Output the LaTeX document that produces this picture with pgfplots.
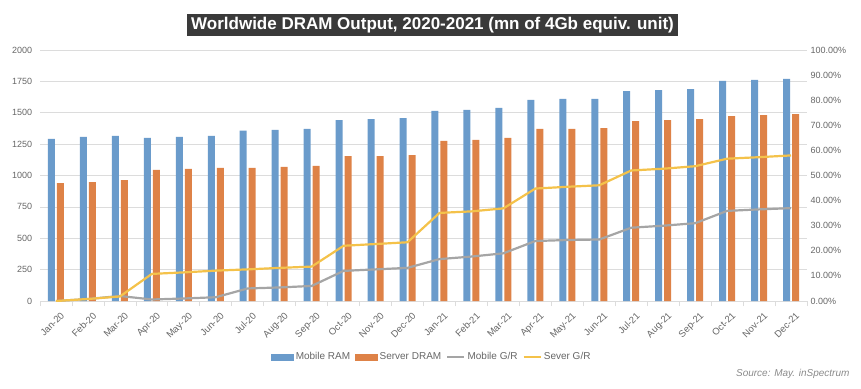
\documentclass[border=0pt]{standalone}
\usepackage{fontspec}
\setmainfont{Liberation Sans}
\usepackage{pgfplots}
\usepackage{pgfplotstable}
\pgfplotsset{compat=1.18}
\definecolor{mob}{HTML}{6A9BCB}
\definecolor{srv}{HTML}{DE8247}
\definecolor{mgr}{HTML}{A5A5A5}
\definecolor{sgr}{HTML}{F4C24A}
\definecolor{gridc}{HTML}{DCDCDC}
\definecolor{tickc}{HTML}{666666}
\definecolor{titlebg}{HTML}{3A3A3A}
\definecolor{srcc}{HTML}{8A8A8A}
\pgfplotstableread{
x mob srv mgr sgr
0 1291 940 0.0 0.0
1 1307 948 0.8 0.8
2 1315 964 2.0 1.8
3 1299 1044 0.6 10.8
4 1307 1052 1.0 11.4
5 1315 1060 1.5 12.1
6 1357 1060 5.0 12.6
7 1363 1068 5.4 13.2
8 1371 1076 6.0 13.7
9 1442 1155 12.0 22.0
10 1450 1155 12.6 22.7
11 1458 1163 13.2 23.4
12 1514 1275 16.7 35.1
13 1522 1283 17.7 35.7
14 1538 1299 19.0 36.9
15 1602 1371 23.9 44.8
16 1610 1371 24.3 45.5
17 1610 1378 24.5 46.1
18 1673 1434 29.2 52.0
19 1681 1442 30.0 52.7
20 1689 1450 31.0 53.7
21 1753 1474 35.9 56.7
22 1761 1482 36.5 57.3
23 1769 1490 37.0 58.0
}\data
\begin{document}
\begin{tikzpicture}
\path[use as bounding box] (0pt,0pt) rectangle (861pt,388pt);
\begin{axis}[at={(40pt,87pt)}, anchor=south west, scale only axis,
  width=767pt, height=251pt,
  xmin=-0.5, xmax=23.5, ymin=0, ymax=2000,
  ytick={0,250,...,2000},
  ymajorgrids, grid style={draw=gridc, line width=0.7pt},
  axis x line*=bottom, axis y line*=left,
  x axis line style={draw=gridc, line width=0.7pt, -},
  y axis line style={draw=none},
  ytick style={draw=none},
  xtick={0,...,23},
  xticklabels={Jan-20,Feb-20,Mar-20,Apr-20,May-20,Jun-20,Jul-20,Aug-20,Sep-20,Oct-20,Nov-20,Dec-20,Jan-21,Feb-21,Mar-21,Apr-21,May-21,Jun-21,Jul-21,Aug-21,Sep-21,Oct-21,Nov-21,Dec-21},
  major x tick style={draw=none},
  minor xtick={-0.5,0.5,...,23.5},
  minor x tick style={draw=gridc, line width=0.7pt},
  minor tick length=5pt, tick align=outside,
  x tick label style={rotate=45, anchor=north east, font=\fontsize{9.5}{10}\selectfont, text=tickc, yshift=-4pt, xshift=2pt},
  y tick label style={font=\fontsize{9}{10}\selectfont, text=tickc},
  /pgf/number format/assume math mode=true,
  /pgf/number format/1000 sep={},
  scaled y ticks=false,
]
\addplot[ybar, bar width=7pt, bar shift=-4.5pt, fill=mob, draw=none] table[x=x,y=mob]{\data};
\addplot[ybar, bar width=7pt, bar shift=4.5pt, fill=srv, draw=none] table[x=x,y=srv]{\data};
\end{axis}
\begin{axis}[at={(40pt,87pt)}, anchor=south west, scale only axis,
  width=767pt, height=251pt,
  xmin=-0.5, xmax=23.5, ymin=0, ymax=100,
  axis x line=none, axis y line*=right,
  y axis line style={draw=none},
  ytick style={draw=none},
  ytick={0,10,...,100},
  yticklabel={\pgfmathprintnumber[fixed,fixed zerofill,precision=2]{\tick}\%},
  y tick label style={font=\fontsize{9}{10}\selectfont, text=tickc},
  /pgf/number format/assume math mode=true,
  legend columns=4,
  legend style={at={(0.511,-0.223)}, anchor=center, draw=none, fill=none,
    font=\fontsize{10}{11}\selectfont, text=tickc,
    /tikz/every even column/.append style={column sep=3pt}},
  legend cell align=left,
]
\addlegendimage{legend image code/.code={\fill[mob] (0pt,-3pt) rectangle (22pt,3pt);}}
\addlegendentry{Mobile RAM}
\addlegendimage{legend image code/.code={\fill[srv] (0pt,-3pt) rectangle (22pt,3pt);}}
\addlegendentry{Server DRAM}
\addplot[mgr, line width=2.2pt] table[x=x,y=mgr]{\data};
\addlegendentry{Mobile G/R}
\addplot[sgr, line width=2.2pt] table[x=x,y=sgr]{\data};
\addlegendentry{Sever G/R}
\end{axis}
\node[fill=titlebg, text=white, font=\bfseries\fontsize{17}{20}\selectfont, inner xsep=4pt, inner ysep=3pt] at (432.5pt,363pt) {Worldwide DRAM Output, 2020-2021 (mn of 4Gb equiv. unit)};
\node[anchor=east, font=\itshape\fontsize{10}{12}\selectfont, text=srcc] at (853pt,14pt) {Source: May. inSpectrum};
\end{tikzpicture}
\end{document}
